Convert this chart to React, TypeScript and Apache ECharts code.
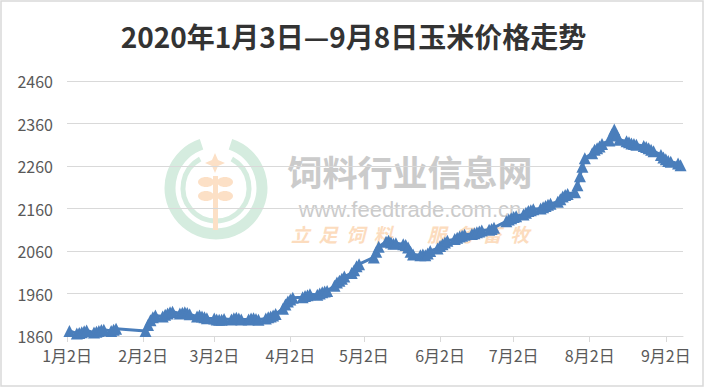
import React, { useEffect, useRef } from 'react';
import * as echarts from 'echarts';

const titleText = '2020年1月3日—9月8日玉米价格走势';
const yMin = 1860;
const yMax = 2460;
const yStep = 100;

const janDays = [3, 6, 7, 8, 9, 10, 13, 14, 15, 16, 17, 20, 21, 22];
const janPrices = [1872, 1866, 1867, 1869, 1871, 1873, 1868, 1870, 1872, 1874, 1875, 1872, 1875, 1877];

const febDays = [3, 4, 5, 6, 7, 10, 11, 12, 13, 14, 17, 18, 19, 20, 21, 24, 25, 26, 27, 28];
const febPrices = [1872, 1886, 1897, 1904, 1908, 1906, 1910, 1913, 1916, 1917, 1913, 1915, 1916, 1914, 1911, 1906, 1908, 1906, 1904, 1902];

const marDays = [2, 3, 4, 5, 6, 9, 10, 11, 12, 13, 16, 17, 18, 19, 20, 23, 24, 25, 26, 27, 30, 31];
const marPrices = [1901, 1899, 1898, 1898, 1900, 1899, 1902, 1903, 1901, 1899, 1899, 1901, 1902, 1900, 1898, 1901, 1904, 1906, 1908, 1912, 1924, 1934];

const aprDays = [1, 2, 3, 7, 8, 9, 10, 13, 14, 15, 16, 17, 20, 21, 22, 23, 24, 27, 28, 29, 30];
const aprPrices = [1941, 1946, 1950, 1951, 1954, 1956, 1958, 1957, 1960, 1963, 1965, 1966, 1978, 1986, 1990, 1995, 2000, 2008, 2015, 2024, 2029];

const mayDays = [6, 7, 8, 11, 12, 13, 14, 15, 18, 19, 20, 21, 22, 25, 26, 27, 28, 29];
const mayPrices = [2045, 2058, 2070, 2082, 2084, 2080, 2077, 2078, 2076, 2074, 2068, 2058, 2052, 2050, 2052, 2050, 2054, 2060];

const junDays = [1, 2, 3, 4, 5, 8, 9, 10, 11, 12, 15, 16, 17, 18, 19, 22, 23, 24, 29, 30];
const junPrices = [2066, 2072, 2076, 2080, 2084, 2088, 2091, 2094, 2096, 2098, 2100, 2102, 2104, 2106, 2108, 2110, 2112, 2115, 2130, 2134];

const julDays = [1, 2, 3, 6, 7, 8, 9, 10, 13, 14, 15, 16, 17, 20, 21, 22, 23, 24, 27, 28, 29, 30, 31];
const julPrices = [2137, 2140, 2142, 2146, 2150, 2154, 2156, 2158, 2160, 2163, 2166, 2169, 2171, 2176, 2182, 2188, 2192, 2194, 2198, 2215, 2236, 2258, 2278];

const augDays = [3, 4, 5, 6, 7, 10, 11, 12, 13, 14, 17, 18, 19, 20, 21, 24, 25, 26, 27, 28, 31];
const augPrices = [2290, 2298, 2302, 2306, 2312, 2320, 2334, 2346, 2332, 2322, 2318, 2316, 2313, 2312, 2310, 2307, 2305, 2302, 2298, 2295, 2286];

const sepDays = [1, 2, 3, 4, 7, 8];
const sepPrices = [2280, 2276, 2272, 2270, 2266, 2262];

const monthData: [number, number[], number[]][] = [
  [1, janDays, janPrices],
  [2, febDays, febPrices],
  [3, marDays, marPrices],
  [4, aprDays, aprPrices],
  [5, mayDays, mayPrices],
  [6, junDays, junPrices],
  [7, julDays, julPrices],
  [8, augDays, augPrices],
  [9, sepDays, sepPrices],
];

function buildCategories(): string[] {
  const cats: string[] = [];
  const d = new Date(2020, 0, 2);
  const end = new Date(2020, 8, 9);
  while (d <= end) {
    cats.push(`${d.getMonth() + 1}月${d.getDate()}日`);
    d.setDate(d.getDate() + 1);
  }
  return cats;
}

function buildSeries(): [string, number][] {
  const out: [string, number][] = [];
  monthData.forEach(([m, days, prices]) => {
    days.forEach((day, i) => out.push([`${m}月${day}日`, prices[i]]));
  });
  return out;
}

const isMonthStart = (_i: number, v: string) => /^\d+月2日$/.test(v);

export default function App() {
  const ref = useRef<HTMLDivElement>(null);
  useEffect(() => {
    if (!ref.current) return;
    const chart = echarts.init(ref.current, undefined, { renderer: 'svg' });
    const blue = '#4A7EBB';
    const grey = '#D9D9D9';
    const font = '"Noto Sans CJK SC", "Noto Sans", sans-serif';
    chart.setOption({
      animation: false,
      backgroundColor: '#ffffff',
      title: {
        text: titleText,
        left: 'center',
        top: 17,
        textStyle: { fontFamily: font, fontSize: 28, fontWeight: 'bold', color: '#333333' },
      },
      grid: { left: 67, right: 24, top: 81, bottom: 52 },
      xAxis: {
        type: 'category',
        data: buildCategories(),
        boundaryGap: false,
        axisLine: { show: true, lineStyle: { color: grey, width: 1 } },
        axisTick: { show: true, interval: isMonthStart, length: 6, lineStyle: { color: grey } },
        axisLabel: {
          interval: isMonthStart,
          fontFamily: font,
          fontSize: 16,
          color: '#595959',
          margin: 11,
        },
        splitLine: { show: false },
      },
      yAxis: {
        type: 'value',
        min: yMin,
        max: yMax,
        interval: yStep,
        axisLine: { show: false },
        axisTick: { show: false },
        axisLabel: { fontFamily: font, fontSize: 16, color: '#595959', margin: 14, formatter: (v: number) => String(v) },
        splitLine: { lineStyle: { color: grey, width: 1 } },
      },
      graphic: [
        {
          type: 'rect',
          shape: { x: 1, y: 1, width: 702, height: 385 },
          style: { fill: 'none', stroke: grey, lineWidth: 1.5 },
          z: 0,
        },
        {
          type: 'arc',
          shape: { cx: 216, cy: 188, r: 46, startAngle: -Math.PI / 2 + 0.32, endAngle: (3 * Math.PI) / 2 - 0.32 },
          style: { stroke: '#D5ECDF', lineWidth: 11, fill: 'none' },
          z: 0,
        },
        {
          type: 'arc',
          shape: { cx: 216, cy: 188, r: 33, startAngle: -Math.PI / 2 + 0.5, endAngle: (3 * Math.PI) / 2 - 0.5 },
          style: { stroke: '#D5ECDF', lineWidth: 5, fill: 'none' },
          z: 0,
        },
        {
          type: 'polygon',
          shape: { points: [[215, 153], [218, 160], [225, 163], [218, 166], [215, 173], [212, 166], [205, 163], [212, 160]] },
          style: { fill: '#FCE0C6' },
          z: 0,
        },
        { type: 'ellipse', shape: { cx: 206, cy: 182, rx: 8, ry: 5 }, style: { fill: '#FCE0C6' }, z: 0 },
        { type: 'ellipse', shape: { cx: 225, cy: 182, rx: 8, ry: 5 }, style: { fill: '#FCE0C6' }, z: 0 },
        { type: 'ellipse', shape: { cx: 206, cy: 196, rx: 8, ry: 5 }, style: { fill: '#FCE0C6' }, z: 0 },
        { type: 'ellipse', shape: { cx: 225, cy: 196, rx: 8, ry: 5 }, style: { fill: '#FCE0C6' }, z: 0 },
        { type: 'rect', shape: { x: 213, y: 176, width: 5, height: 54 }, style: { fill: '#FCE0C6' }, z: 0 },
        {
          type: 'text',
          x: 410,
          y: 170,
          style: {
            text: '饲料行业信息网',
            font: `bold 35px ${font}`,
            fill: '#CBCBCB',
            align: 'center',
            verticalAlign: 'middle',
          },
          z: 0,
        },
        {
          type: 'text',
          x: 410,
          y: 209,
          style: {
            text: 'www.feedtrade.com.cn',
            font: `22px "Liberation Sans", sans-serif`,
            fill: '#CBCBCB',
            align: 'center',
            verticalAlign: 'middle',
          },
          z: 0,
        },
        {
          type: 'text',
          x: 410,
          y: 233,
          style: {
            text: '立  足  饲  料        服  务  畜  牧',
            font: `italic bold 19px ${font}`,
            fill: '#FCDCBE',
            align: 'center',
            verticalAlign: 'middle',
          },
          z: 0,
        },
      ],
      series: [
        {
          type: 'line',
          data: buildSeries(),
          symbol: 'triangle',
          symbolSize: 12,
          showSymbol: true,
          showAllSymbol: true,
          lineStyle: { color: blue, width: 3 },
          itemStyle: { color: blue },
          z: 5,
        },
      ],
    });
    return () => chart.dispose();
  }, []);
  return <div ref={ref} style={{ position: 'absolute', left: 0, top: 0, width: 707, height: 388 }} />;
}
